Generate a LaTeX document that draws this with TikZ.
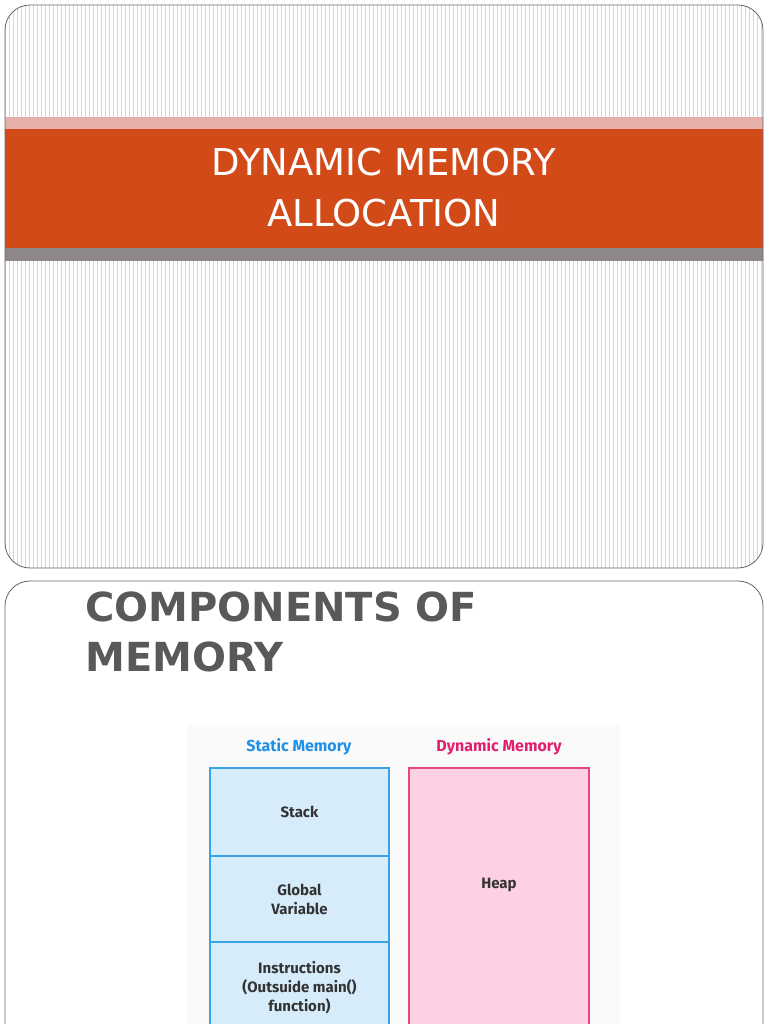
\documentclass[tikz,border=0pt]{standalone}
\usepackage{fontspec}
\setmainfont{DejaVu Sans}
\newfontfamily\figfont{Fira Sans}
\definecolor{orng}{HTML}{D24A18}
\definecolor{pinkband}{HTML}{E6B0AA}
\definecolor{grayband}{HTML}{8E8788}
\definecolor{ttlgray}{HTML}{595959}
\definecolor{sblue}{HTML}{1E90E8}
\definecolor{sfill}{HTML}{D6ECFB}
\definecolor{sdraw}{HTML}{3BA3E3}
\definecolor{dpink}{HTML}{E0206F}
\definecolor{dfill}{HTML}{FDD0E3}
\definecolor{ddraw}{HTML}{E8467F}
\begin{document}
\begin{tikzpicture}[x=1pt,y=-1pt,
  cell/.style={draw=sdraw,fill=sfill,line width=1.2pt,font=\figfont\bfseries\fontsize{15}{19}\selectfont,text=black!80,align=center},
  hdr/.style={font=\figfont\bfseries\fontsize{16}{19}\selectfont}]
\useasboundingbox (0,0) rectangle (768,1024);
\fill[white] (0,0) rectangle (768,1024);
% slide 1
\begin{scope}
\clip[rounded corners=25pt] (5,5) rectangle (763,568);
\fill[white] (0,0) rectangle (768,570);
\foreach \i in {0,...,190} {\draw[black!16,line width=0.6pt] (5+4*\i,0) -- (5+4*\i,570);}
\fill[pinkband] (0,117) rectangle (768,129);
\fill[orng] (0,129) rectangle (768,248);
\fill[grayband] (0,248) rectangle (768,261);
\end{scope}
\draw[black!60,line width=0.8pt,rounded corners=25pt] (5,5) rectangle (763,568);
\node[text=white,align=center,font=\fontsize{37}{51}\selectfont] (t1) at (384,188) {DYNAMIC MEMORY\\ALLOCATION};
% slide 2
\draw[black!60,line width=0.8pt,rounded corners=25pt,fill=white] (5,581) rectangle (763,1060);
\node[anchor=north west,align=left,text=ttlgray,font=\bfseries\fontsize{40}{50}\selectfont,inner sep=0] (t2) at (85,592) {COMPONENTS OF\\MEMORY};
\fill[black!2] (187,725) rectangle (620,1024);
\node[hdr,text=sblue] (hs) at (299,747) {Static Memory};
\node[hdr,text=dpink] (hd) at (499,747) {Dynamic Memory};
\node[cell,minimum width=179pt,minimum height=88pt] (stack) at (299.5,812) {Stack};
\node[cell,minimum width=179pt,minimum height=86pt] (glob) at (299.5,899) {Global\\Variable};
\draw[draw=sdraw,fill=sfill,line width=1.2pt] (210,942) rectangle (389,1040);
\node[cell,draw=none,fill=none] (instr) at (299.5,988) {Instructions\\(Outsuide main()\\function)};
\draw[draw=ddraw,fill=dfill,line width=1.2pt] (409,768) rectangle (589,1040);
\node[font=\figfont\bfseries\fontsize{15}{19}\selectfont,text=black!80] (heap) at (499,885) {Heap};
\end{tikzpicture}
\end{document}
